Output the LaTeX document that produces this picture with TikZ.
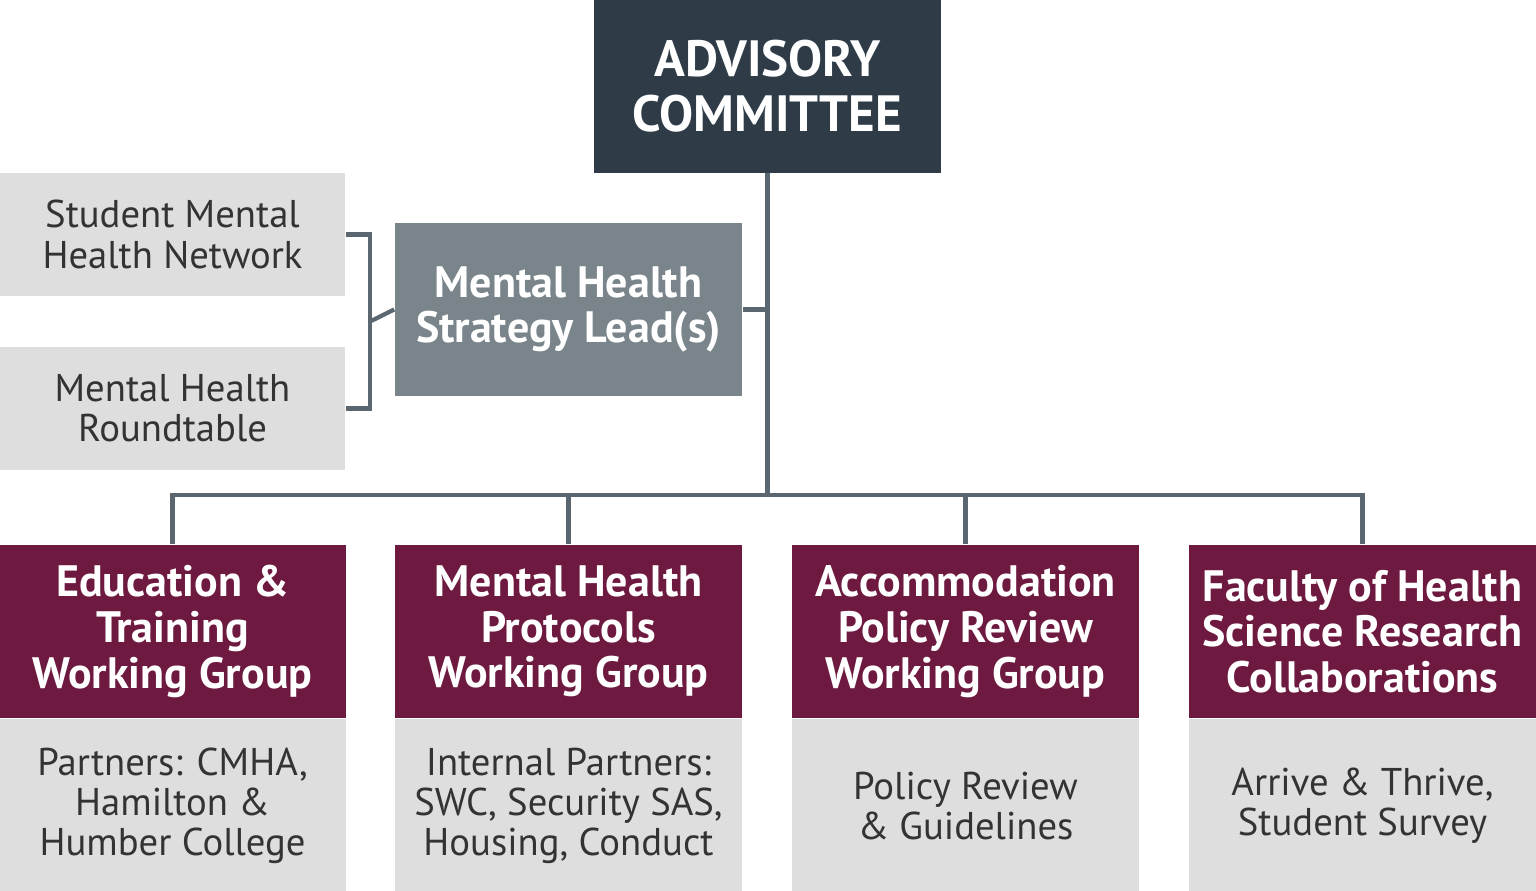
\documentclass[tikz,border=0pt]{standalone}
\usepackage{fontspec}
\setmainfont{PT Sans}
\usetikzlibrary{positioning}
\definecolor{navy}{HTML}{2F3C48}
\definecolor{slate}{HTML}{7A858B}
\definecolor{wine}{HTML}{6E1A40}
\definecolor{pale}{HTML}{DEDEDE}
\definecolor{wire}{HTML}{5A6670}
\tikzset{
  box/.style={inner sep=0pt, align=center, minimum width=3.47cm, minimum height=1.73cm},
  headbox/.style={box, fill=wine, text=white, font=\bfseries\fontsize{12.5}{13}\selectfont},
  notebox/.style={box, fill=pale, text=black!80, font=\fontsize{11}{11.4}\selectfont},
  sidebox/.style={notebox, minimum width=3.45cm, minimum height=1.23cm},
  link/.style={draw=wire, line width=1.2pt}
}
\begin{document}
\begin{tikzpicture}[x=0.01cm, y=-0.01cm]
    \useasboundingbox (0,0) rectangle (1536,891);

    \node[box, fill=navy, text=white, font=\bfseries\fontsize{14.5}{15.5}\selectfont] (advisory) at (767.5,86) {ADVISORY\\COMMITTEE};
    \node[box, fill=slate, text=white, font=\bfseries\fontsize{12.5}{13}\selectfont] (lead) at (568.5,309.5) {Mental Health\\Strategy Lead(s)};
    \node[sidebox] (network) at (172.5,234.5) {Student Mental\\Health Network};
    \node[sidebox] (roundtable) at (172.5,408.5) {Mental Health\\Roundtable};

    \node[headbox] (education) at (172.5,631.5) {Education \&\\Training\\Working Group};
    \node[headbox] (protocols) at (568.5,631.5) {Mental Health\\Protocols\\Working Group};
    \node[headbox] (policy) at (965.5,631.5) {Accommodation\\Policy Review\\Working Group};
    \node[headbox] (faculty) at (1362.5,631.5) {Faculty of Health\\Science Research\\Collaborations};

    \node[notebox, below=0pt of education] (partners) {Partners: CMHA,\\Hamilton \&\\Humber College};
    \node[notebox, below=0pt of protocols] (internal) {Internal Partners:\\SWC, Security SAS,\\Housing, Conduct};
    \node[notebox, below=0pt of policy] (guidelines) {Policy Review\\\& Guidelines};
    \node[notebox, below=0pt of faculty] (survey) {Arrive \& Thrive,\\Student Survey};

    \coordinate (trunk) at (767.5,495);
    \coordinate (bracket) at (370,321.5);
    \draw[link] (advisory.south) -- (trunk);
    \draw[link] (lead.east) -- (lead.east -| advisory.south);
    \draw[link] (education.north) |- (trunk) -| (faculty.north);
    \draw[link] (protocols.north) -- (protocols.north |- trunk);
    \draw[link] (policy.north) -- (policy.north |- trunk);
    \draw[link] (network.east) -| (bracket) |- (roundtable.east);
    \draw[link] (bracket) -- (lead.west);
\end{tikzpicture}
\end{document}
